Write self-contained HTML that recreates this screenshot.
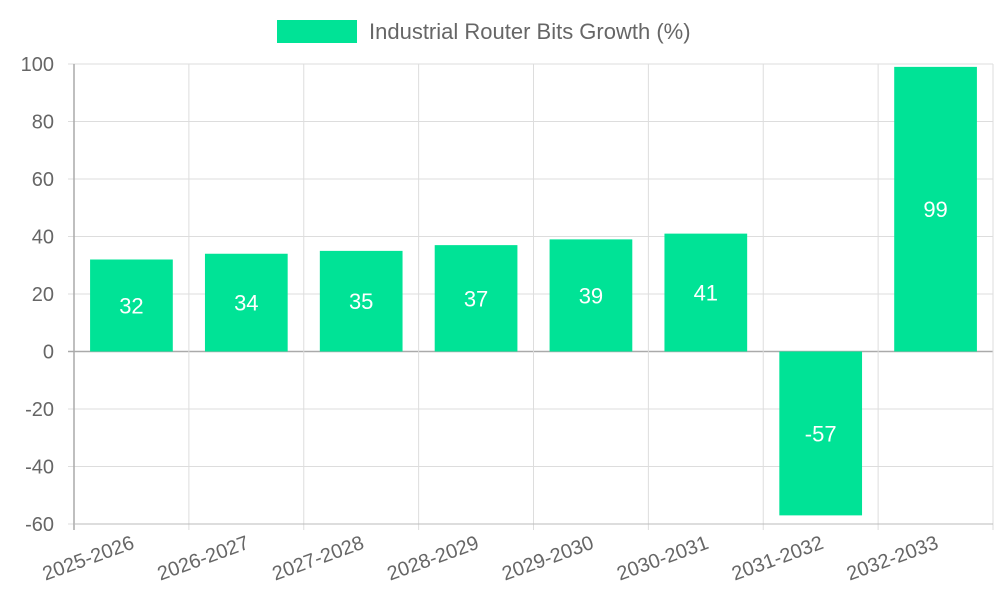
<!DOCTYPE html>
<html><head><meta charset="utf-8"><style>
body{margin:0;background:#fff;font-family:"Liberation Sans",sans-serif}
</style></head><body>
<svg id="chart" width="1000" height="600" xmlns="http://www.w3.org/2000/svg" font-family="Liberation Sans, sans-serif">
<g>
<rect x="277" y="20" width="80" height="23" fill="#00E396"/>
<text x="369" y="39" font-size="22" fill="#666">Industrial Router Bits Growth (%)</text>
</g>
<g id="grid"></g>
<g id="bars"></g>
<g id="labels"></g>
</svg>
<script>
const categories=["2025-2026","2026-2027","2027-2028","2028-2029","2029-2030","2030-2031","2031-2032","2032-2033"];
const values=[32,34,35,37,39,41,-57,99];
const yTicks=[100,80,60,40,20,0,-20,-40,-60];
const NS="http://www.w3.org/2000/svg";
const L=74,R=993,T=64,B=524,yMax=100,yMin=-60;
const y=v=>T+(yMax-v)/(yMax-yMin)*(B-T);
const bw=(R-L)/categories.length;
const x=i=>L+i*bw;
function mk(tag,attrs,parent){const e=document.createElementNS(NS,tag);for(const k in attrs)e.setAttribute(k,attrs[k]);document.getElementById(parent).appendChild(e);return e;}
yTicks.forEach(t=>{
 const zero=t===0;
 const l=mk('line',{x1:L-6,x2:R,y1:y(t),y2:y(t),stroke:zero?'#aaa':'#ddd','stroke-width':zero?1.5:1},'grid');
 
 
 const tx=mk('text',{x:L-20,y:y(t)+7,'text-anchor':'end','font-size':20,fill:'#666'},'labels');
 tx.textContent=t;
 
 
});
for(let i=0;i<=categories.length;i++){
 const l=mk('line',{x1:x(i),x2:x(i),y1:T,y2:B+6,stroke:i===0?'#aaa':'#ddd','stroke-width':i===0?1.5:1},'grid');
 
 
}
mk('line',{x1:L,x2:R,y1:B,y2:B,stroke:'#bbb'},'grid');
categories.forEach((c,i)=>{
 const v=values[i];const cx=x(i)+bw/2;const w=bw*0.72;
 const r=mk('rect',{x:cx-w/2,y:Math.min(y(v),y(0)),width:w,height:Math.abs(y(v)-y(0)),fill:'#00E396'},'bars');
 
 
 const vt=mk('text',{x:cx,y:(y(v)+y(0))/2+8,'text-anchor':'middle','font-size':22,fill:'#fff'},'bars');
 vt.textContent=v;
 
 
 const lt=mk('text',{x:cx+4,y:B+24,'text-anchor':'end','font-size':20,fill:'#666',transform:`rotate(-20 ${cx+4} ${B+24})`},'labels');
 lt.textContent=c;
 
 
});
</script>
</body></html>
